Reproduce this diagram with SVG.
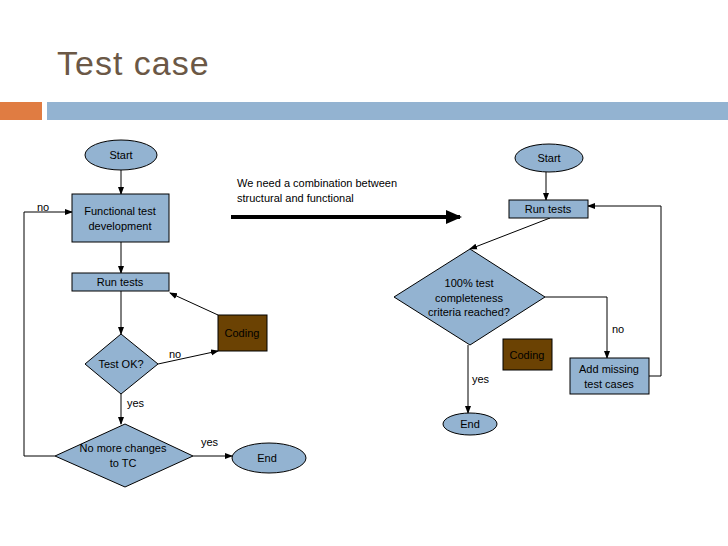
<svg xmlns="http://www.w3.org/2000/svg" width="728" height="546" viewBox="0 0 728 546">
<defs>
<marker id="ah" markerWidth="8" markerHeight="8" refX="7" refY="4" orient="auto" markerUnits="userSpaceOnUse"><path d="M0,1 L8,4 L0,7 Z" fill="#000"/></marker>
<marker id="big" markerWidth="16" markerHeight="14" refX="14" refY="7" orient="auto" markerUnits="userSpaceOnUse"><path d="M0,0 L16,7 L0,14 Z" fill="#000"/></marker>
</defs>
<style>
.n{fill:#93b3d1;stroke:#000;stroke-width:1}
.c{fill:#6b4203;stroke:#000;stroke-width:1}
text{font-family:"Liberation Sans",Arial,sans-serif;font-size:11px;fill:#000}
.m{text-anchor:middle}
.l{fill:none;stroke:#000;stroke-width:1}
</style>
<rect width="728" height="546" fill="#fff"/>
<text x="57" y="75" style="font-size:34px;fill:#6b5846;letter-spacing:1px">Test case</text>
<rect x="0" y="102" width="42" height="18" fill="#e07c42"/>
<rect x="47" y="102" width="681" height="18" fill="#93b3d1"/>
<g id="connectors">
<line class="l" x1="121" y1="170" x2="121" y2="194" marker-end="url(#ah)"/>
<line class="l" x1="121" y1="242" x2="121" y2="273" marker-end="url(#ah)"/>
<line class="l" x1="121" y1="291" x2="121" y2="334" marker-end="url(#ah)"/>
<line class="l" x1="218" y1="315" x2="170" y2="293" marker-end="url(#ah)"/>
<line class="l" x1="158" y1="364" x2="218" y2="351" marker-end="url(#ah)"/>
<line class="l" x1="121" y1="394" x2="121" y2="424" marker-end="url(#ah)"/>
<line class="l" x1="193" y1="456" x2="232" y2="456" marker-end="url(#ah)"/>
<polyline class="l" points="55,456 24,456 24,212 72,212" marker-end="url(#ah)"/>
<line x1="231" y1="217" x2="460" y2="217" stroke="#000" stroke-width="4" marker-end="url(#big)"/>
<line class="l" x1="546" y1="172" x2="546" y2="200" marker-end="url(#ah)"/>
<line class="l" x1="550" y1="218" x2="470" y2="249" marker-end="url(#ah)"/>
<polyline class="l" points="545,297 607,297 607,358" marker-end="url(#ah)"/>
<polyline class="l" points="649,376 661,376 661,206 588,206" marker-end="url(#ah)"/>
<line class="l" x1="468" y1="345" x2="468" y2="413" marker-end="url(#ah)"/>
</g>
<text x="37" y="211">no</text>
<text x="169" y="358">no</text>
<text x="127" y="407">yes</text>
<text x="201" y="446">yes</text>
<text x="237" y="187">We need a combination between</text>
<text x="237" y="202">structural and functional</text>
<text x="612" y="333">no</text>
<text x="472" y="383">yes</text>
<g id="start1"><ellipse class="n" cx="121" cy="155" rx="36" ry="15"/><text class="m" x="121" y="159">Start</text></g>
<g id="func"><rect class="n" x="72" y="194" width="97" height="48"/><text class="m" x="120" y="215">Functional test</text><text class="m" x="120" y="230">development</text></g>
<g id="run1"><rect class="n" x="72" y="273" width="97" height="18"/><text class="m" x="120" y="286">Run tests</text></g>
<g id="coding1"><rect class="c" x="218" y="315" width="49" height="36"/><text class="m" x="242" y="337">Coding</text></g>
<g id="testok"><polygon class="n" points="121,334 158,364 121,394 85,364"/><text class="m" x="121" y="368">Test OK?</text></g>
<g id="nomore"><polygon class="n" points="125,424 193,456 125,487 55,456"/><text class="m" x="123" y="452">No more changes</text><text class="m" x="123" y="467">to TC</text></g>
<g id="end1"><ellipse class="n" cx="269" cy="458" rx="37" ry="15"/><text class="m" x="267" y="462">End</text></g>
<g id="start2"><ellipse class="n" cx="549" cy="158" rx="34" ry="14"/><text class="m" x="549" y="162">Start</text></g>
<g id="run2"><rect class="n" x="509" y="200" width="79" height="18"/><text class="m" x="548" y="213">Run tests</text></g>
<g id="crit"><polygon class="n" points="470,249 545,297 470,345 394,297"/><text class="m" x="469" y="287">100% test</text><text class="m" x="469" y="302">completeness</text><text class="m" x="469" y="316">criteria reached?</text></g>
<g id="coding2"><rect class="c" x="503" y="339" width="49" height="31"/><text class="m" x="527" y="359">Coding</text></g>
<g id="add"><rect class="n" x="570" y="358" width="79" height="36"/><text class="m" x="609" y="373">Add missing</text><text class="m" x="609" y="388">test cases</text></g>
<g id="end2"><ellipse class="n" cx="470" cy="424" rx="27" ry="11"/><text class="m" x="470" y="428">End</text></g>
</svg>
